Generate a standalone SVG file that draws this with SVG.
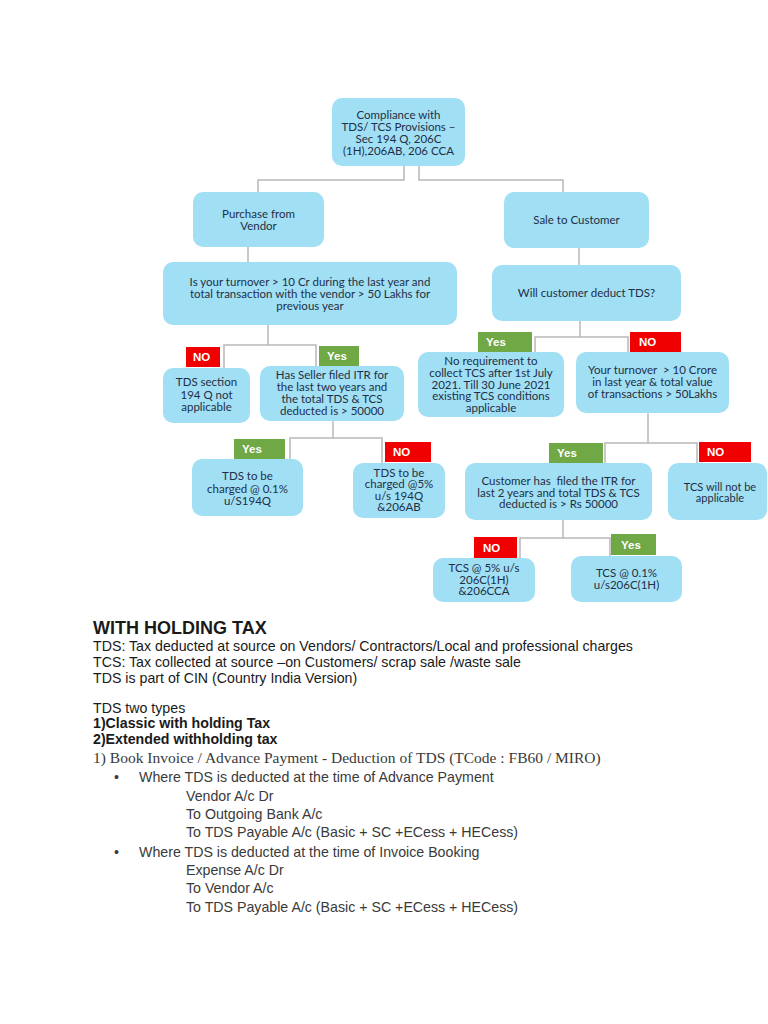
<svg xmlns="http://www.w3.org/2000/svg" width="768" height="1024" viewBox="0 0 768 1024">
<style>
.box{fill:#a1dff5;}
.bt{font-family:Lato,"Open Sans",sans-serif;font-size:11.5px;fill:#1f2f45;text-anchor:middle;}
.bt11{font-size:11px;}
.yes{fill:#6fa844;}
.no{fill:#f00000;}
.lt{font-family:"Liberation Sans",Arial,sans-serif;font-size:11.5px;font-weight:bold;fill:#ffffff;}
.con{fill:none;stroke:#b8b8b8;stroke-width:1.5;}
.body{font-family:"Liberation Sans",Arial,sans-serif;font-size:14.2px;fill:#1a1a1a;}
.gray{fill:#3a3a3a;}
.b{font-weight:bold;}
.serif{font-family:"Liberation Serif","Times New Roman",serif;font-size:15.5px;fill:#3a3a3a;}
</style>
<rect width="768" height="1024" fill="#ffffff"/>
<g id="connectors">
<path class="con" d="M404 166 V180 H258 V192"/>
<path class="con" d="M419 166 V180 H563 V192"/>
<path class="con" d="M248 247 V262"/>
<path class="con" d="M268 325 V345"/>
<path class="con" d="M224 368 V345 H316 V366"/>
<path class="con" d="M333 421 V438"/>
<path class="con" d="M290 459 V438 H382 V463"/>
<path class="con" d="M579 248 V265"/>
<path class="con" d="M580 321 V337"/>
<path class="con" d="M535 352 V337 H628 V352"/>
<path class="con" d="M648 413 V443"/>
<path class="con" d="M605 463 V443 H697 V463"/>
<path class="con" d="M563 520 V538"/>
<path class="con" d="M520 558 V538 H610 V556"/>
</g>
<g id="compliance">
<rect class="box" x="332" y="98" width="133" height="68" rx="10"/>
<text class="bt" x="398.5" y="119">Compliance with</text>
<text class="bt" x="398.5" y="131">TDS/ TCS Provisions –</text>
<text class="bt" x="398.5" y="143">Sec 194 Q, 206C</text>
<text class="bt" x="398.5" y="155">(1H),206AB, 206 CCA</text>
</g>
<g id="purchase">
<rect class="box" x="193" y="192" width="131" height="55" rx="10"/>
<text class="bt" x="258.5" y="218">Purchase from</text>
<text class="bt" x="258.5" y="230">Vendor</text>
</g>
<g id="q-turnover">
<rect class="box" x="163" y="262" width="294" height="63" rx="10"/>
<text class="bt" x="310" y="286">Is your turnover &gt; 10 Cr during the last year and</text>
<text class="bt" x="310" y="298">total transaction with the vendor &gt; 50 Lakhs for</text>
<text class="bt" x="310" y="310">previous year</text>
</g>
<g id="label-no-1">
<rect class="no" x="186" y="347" width="34" height="20"/>
<text class="lt" x="193" y="361">NO</text>
</g>
<g id="label-yes-1">
<rect class="yes" x="319" y="346" width="40" height="20"/>
<text class="lt" x="327" y="360">Yes</text>
</g>
<g id="tds-na">
<rect class="box" x="163" y="368" width="87" height="55" rx="10"/>
<text class="bt" x="206.5" y="386">TDS section</text>
<text class="bt" x="206.5" y="398.5">194 Q not</text>
<text class="bt" x="206.5" y="411">applicable</text>
</g>
<g id="seller-itr">
<rect class="box" x="260" y="366" width="144" height="55" rx="10"/>
<text class="bt" x="332" y="379">Has Seller filed ITR for</text>
<text class="bt" x="332" y="391">the last two years and</text>
<text class="bt" x="332" y="403">the total TDS &amp; TCS</text>
<text class="bt" x="332" y="415">deducted is &gt; 50000</text>
</g>
<g id="label-yes-2">
<rect class="yes" x="234" y="439" width="51" height="20"/>
<text class="lt" x="242" y="453">Yes</text>
</g>
<g id="label-no-2">
<rect class="no" x="385" y="442" width="46" height="20"/>
<text class="lt" x="393" y="456">NO</text>
</g>
<g id="tds-01">
<rect class="box" x="192" y="459" width="111" height="57" rx="10"/>
<text class="bt" x="247.5" y="480">TDS to be</text>
<text class="bt" x="247.5" y="492.5">charged @ 0.1%</text>
<text class="bt" x="247.5" y="505">u/S194Q</text>
</g>
<g id="tds-5">
<rect class="box" x="353" y="463" width="92" height="55" rx="10"/>
<text class="bt" x="399" y="476.5">TDS to be</text>
<text class="bt" x="399" y="488">charged @5%</text>
<text class="bt" x="399" y="499.5">u/s 194Q</text>
<text class="bt" x="399" y="511">&amp;206AB</text>
</g>
<g id="sale">
<rect class="box" x="504" y="192" width="145" height="56" rx="10"/>
<text class="bt" x="576.5" y="224">Sale to Customer</text>
</g>
<g id="q-customer-tds">
<rect class="box" x="492" y="265" width="189" height="56" rx="10"/>
<text class="bt" x="586.5" y="297">Will customer deduct TDS?</text>
</g>
<g id="label-yes-3">
<rect class="yes" x="478" y="332" width="54" height="20"/>
<text class="lt" x="486" y="346">Yes</text>
</g>
<g id="label-no-3">
<rect class="no" x="630" y="332" width="51" height="20"/>
<text class="lt" x="639" y="346">NO</text>
</g>
<g id="no-requirement">
<rect class="box" x="418" y="352" width="146" height="65" rx="10"/>
<text class="bt" x="491" y="365">No requirement to</text>
<text class="bt" x="491" y="377">collect TCS after 1st July</text>
<text class="bt" x="491" y="388.5">2021. Till 30 June 2021</text>
<text class="bt" x="491" y="400">existing TCS conditions</text>
<text class="bt" x="491" y="412">applicable</text>
</g>
<g id="your-turnover">
<rect class="box" x="576" y="352" width="153" height="61" rx="10"/>
<text class="bt" x="652.5" y="374" xml:space="preserve">Your turnover  &gt; 10 Crore</text>
<text class="bt" x="652.5" y="386">in last year &amp; total value</text>
<text class="bt" x="652.5" y="397.5">of transactions &gt; 50Lakhs</text>
</g>
<g id="label-yes-4">
<rect class="yes" x="549" y="443" width="54" height="20"/>
<text class="lt" x="557" y="457">Yes</text>
</g>
<g id="label-no-4">
<rect class="no" x="699" y="442" width="52" height="20"/>
<text class="lt" x="707" y="456">NO</text>
</g>
<g id="customer-itr">
<rect class="box" x="465" y="463" width="187" height="57" rx="10"/>
<text class="bt" x="558.5" y="485" xml:space="preserve">Customer has  filed the ITR for</text>
<text class="bt" x="558.5" y="496.5">last 2 years and total TDS &amp; TCS</text>
<text class="bt" x="558.5" y="508">deducted is &gt; Rs 50000</text>
</g>
<g id="tcs-na">
<rect class="box" x="668" y="463" width="99" height="57" rx="10"/>
<text class="bt bt11" x="720" y="491">TCS will not be</text>
<text class="bt bt11" x="720" y="502">applicable</text>
</g>
<g id="label-no-5">
<rect class="no" x="474" y="537" width="43" height="21"/>
<text class="lt" x="483" y="551.5">NO</text>
</g>
<g id="label-yes-5">
<rect class="yes" x="611" y="534" width="45" height="21"/>
<text class="lt" x="621" y="548.5">Yes</text>
</g>
<g id="tcs-5">
<rect class="box" x="433" y="558" width="102" height="44" rx="10"/>
<text class="bt" x="484" y="572">TCS @ 5% u/s</text>
<text class="bt" x="484" y="583.5">206C(1H)</text>
<text class="bt" x="484" y="595">&amp;206CCA</text>
</g>
<g id="tcs-01">
<rect class="box" x="571" y="556" width="111" height="46" rx="10"/>
<text class="bt" x="626.5" y="577">TCS @ 0.1%</text>
<text class="bt" x="626.5" y="589">u/s206C(1H)</text>
</g>
<g id="text-body">
<text class="body b" x="93" y="634" style="font-size:18px">WITH HOLDING TAX</text>
<text class="body" x="93" y="651">TDS: Tax deducted at source on Vendors/ Contractors/Local and professional charges</text>
<text class="body" x="93" y="667">TCS: Tax collected at source –on Customers/ scrap sale /waste sale</text>
<text class="body" x="93" y="683">TDS is part of CIN (Country India Version)</text>
<text class="body" x="93" y="713">TDS two types</text>
<text class="body b" x="93" y="728">1)Classic with holding Tax</text>
<text class="body b" x="93" y="744">2)Extended withholding tax</text>
<text class="serif" x="93" y="763">1) Book Invoice / Advance Payment - Deduction of TDS (TCode : FB60 / MIRO)</text>
<text class="body gray" x="114" y="782">•</text>
<text class="body gray" x="139" y="782">Where TDS is deducted at the time of Advance Payment</text>
<text class="body gray" x="186" y="801">Vendor A/c Dr</text>
<text class="body gray" x="186" y="819">To Outgoing Bank A/c</text>
<text class="body gray" x="186" y="837">To TDS Payable A/c (Basic + SC +ECess + HECess)</text>
<text class="body gray" x="114" y="857">•</text>
<text class="body gray" x="139" y="857">Where TDS is deducted at the time of Invoice Booking</text>
<text class="body gray" x="186" y="875">Expense A/c Dr</text>
<text class="body gray" x="186" y="893">To Vendor A/c</text>
<text class="body gray" x="186" y="912">To TDS Payable A/c (Basic + SC +ECess + HECess)</text>
</g>
</svg>
